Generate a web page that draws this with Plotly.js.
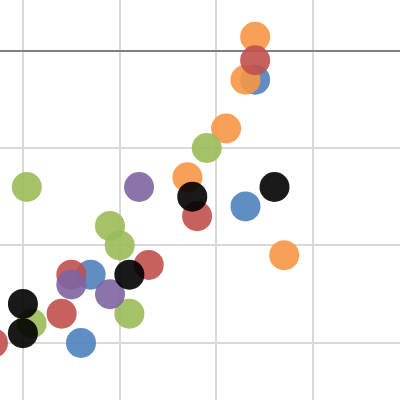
<!DOCTYPE html>
<html>
<head>
<meta charset="utf-8">
<script src="https://cdn.plot.ly/plotly-3.0.1.min.js"></script>
<style>
  html, body { margin: 0; padding: 0; background: #fff; }
  #chart { width: 400px; height: 400px; }
</style>
</head>
<body>
<div id="chart"></div>
<script>
// values, one pair of arrays per colour
var blueX = [2.4, 2.3, 0.7, 0.6];
var blueY = [-0.3, -1.6, -2.3, -3.0];

var orangeX = [2.4, 2.3, 2.1, 1.7, 2.7];
var orangeY = [0.14, -0.3, -0.8, -1.3, -2.1];

var redX = [2.4, 1.8, 1.3, 0.5, 0.4, -0.31];
var redY = [-0.1, -1.7, -2.2, -2.3, -2.7, -3.0];

var greenX = [1.9, 0.04, 0.9, 1.0, 1.1, 0.09];
var greenY = [-1.0, -1.4, -1.8, -2.0, -2.7, -2.8];

var purpleX = [1.2, 0.5, 0.9];
var purpleY = [-1.4, -2.4, -2.5];

var blackX = [1.75, 2.6, 1.1, 0.0, 0.0];
var blackY = [-1.5, -1.4, -2.3, -2.6, -2.9];

function series(x, y, color) {
  return {
    x: x,
    y: y,
    mode: 'markers',
    type: 'scatter',
    hoverinfo: 'none',
    marker: { size: 30, color: color, opacity: 0.9, line: { width: 0 } }
  };
}

var data = [
  series(blueX, blueY, '#4f81bd'),
  series(orangeX, orangeY, '#f79646'),
  series(redX, redY, '#c0504d'),
  series(greenX, greenY, '#9bbb59'),
  series(purpleX, purpleY, '#8064a2'),
  series(blackX, blackY, '#000000')
];

var layout = {
  width: 400,
  height: 400,
  margin: { l: 0, r: 0, t: 0, b: 0, pad: 0 },
  showlegend: false,
  paper_bgcolor: '#fff',
  plot_bgcolor: '#fff',
  xaxis: {
    range: [-0.237, 3.897],
    dtick: 1,
    showticklabels: false,
    ticks: '',
    showgrid: true,
    gridcolor: '#d9d9d9',
    gridwidth: 2,
    zeroline: false,
    showline: false
  },
  yaxis: {
    range: [-3.585, 0.518],
    dtick: 1,
    showticklabels: false,
    ticks: '',
    showgrid: true,
    gridcolor: '#d9d9d9',
    gridwidth: 2,
    zeroline: true,
    zerolinecolor: '#808080',
    zerolinewidth: 2,
    showline: false
  }
};

Plotly.newPlot('chart', data, layout, { staticPlot: true, displayModeBar: false });
</script>
</body>
</html>
